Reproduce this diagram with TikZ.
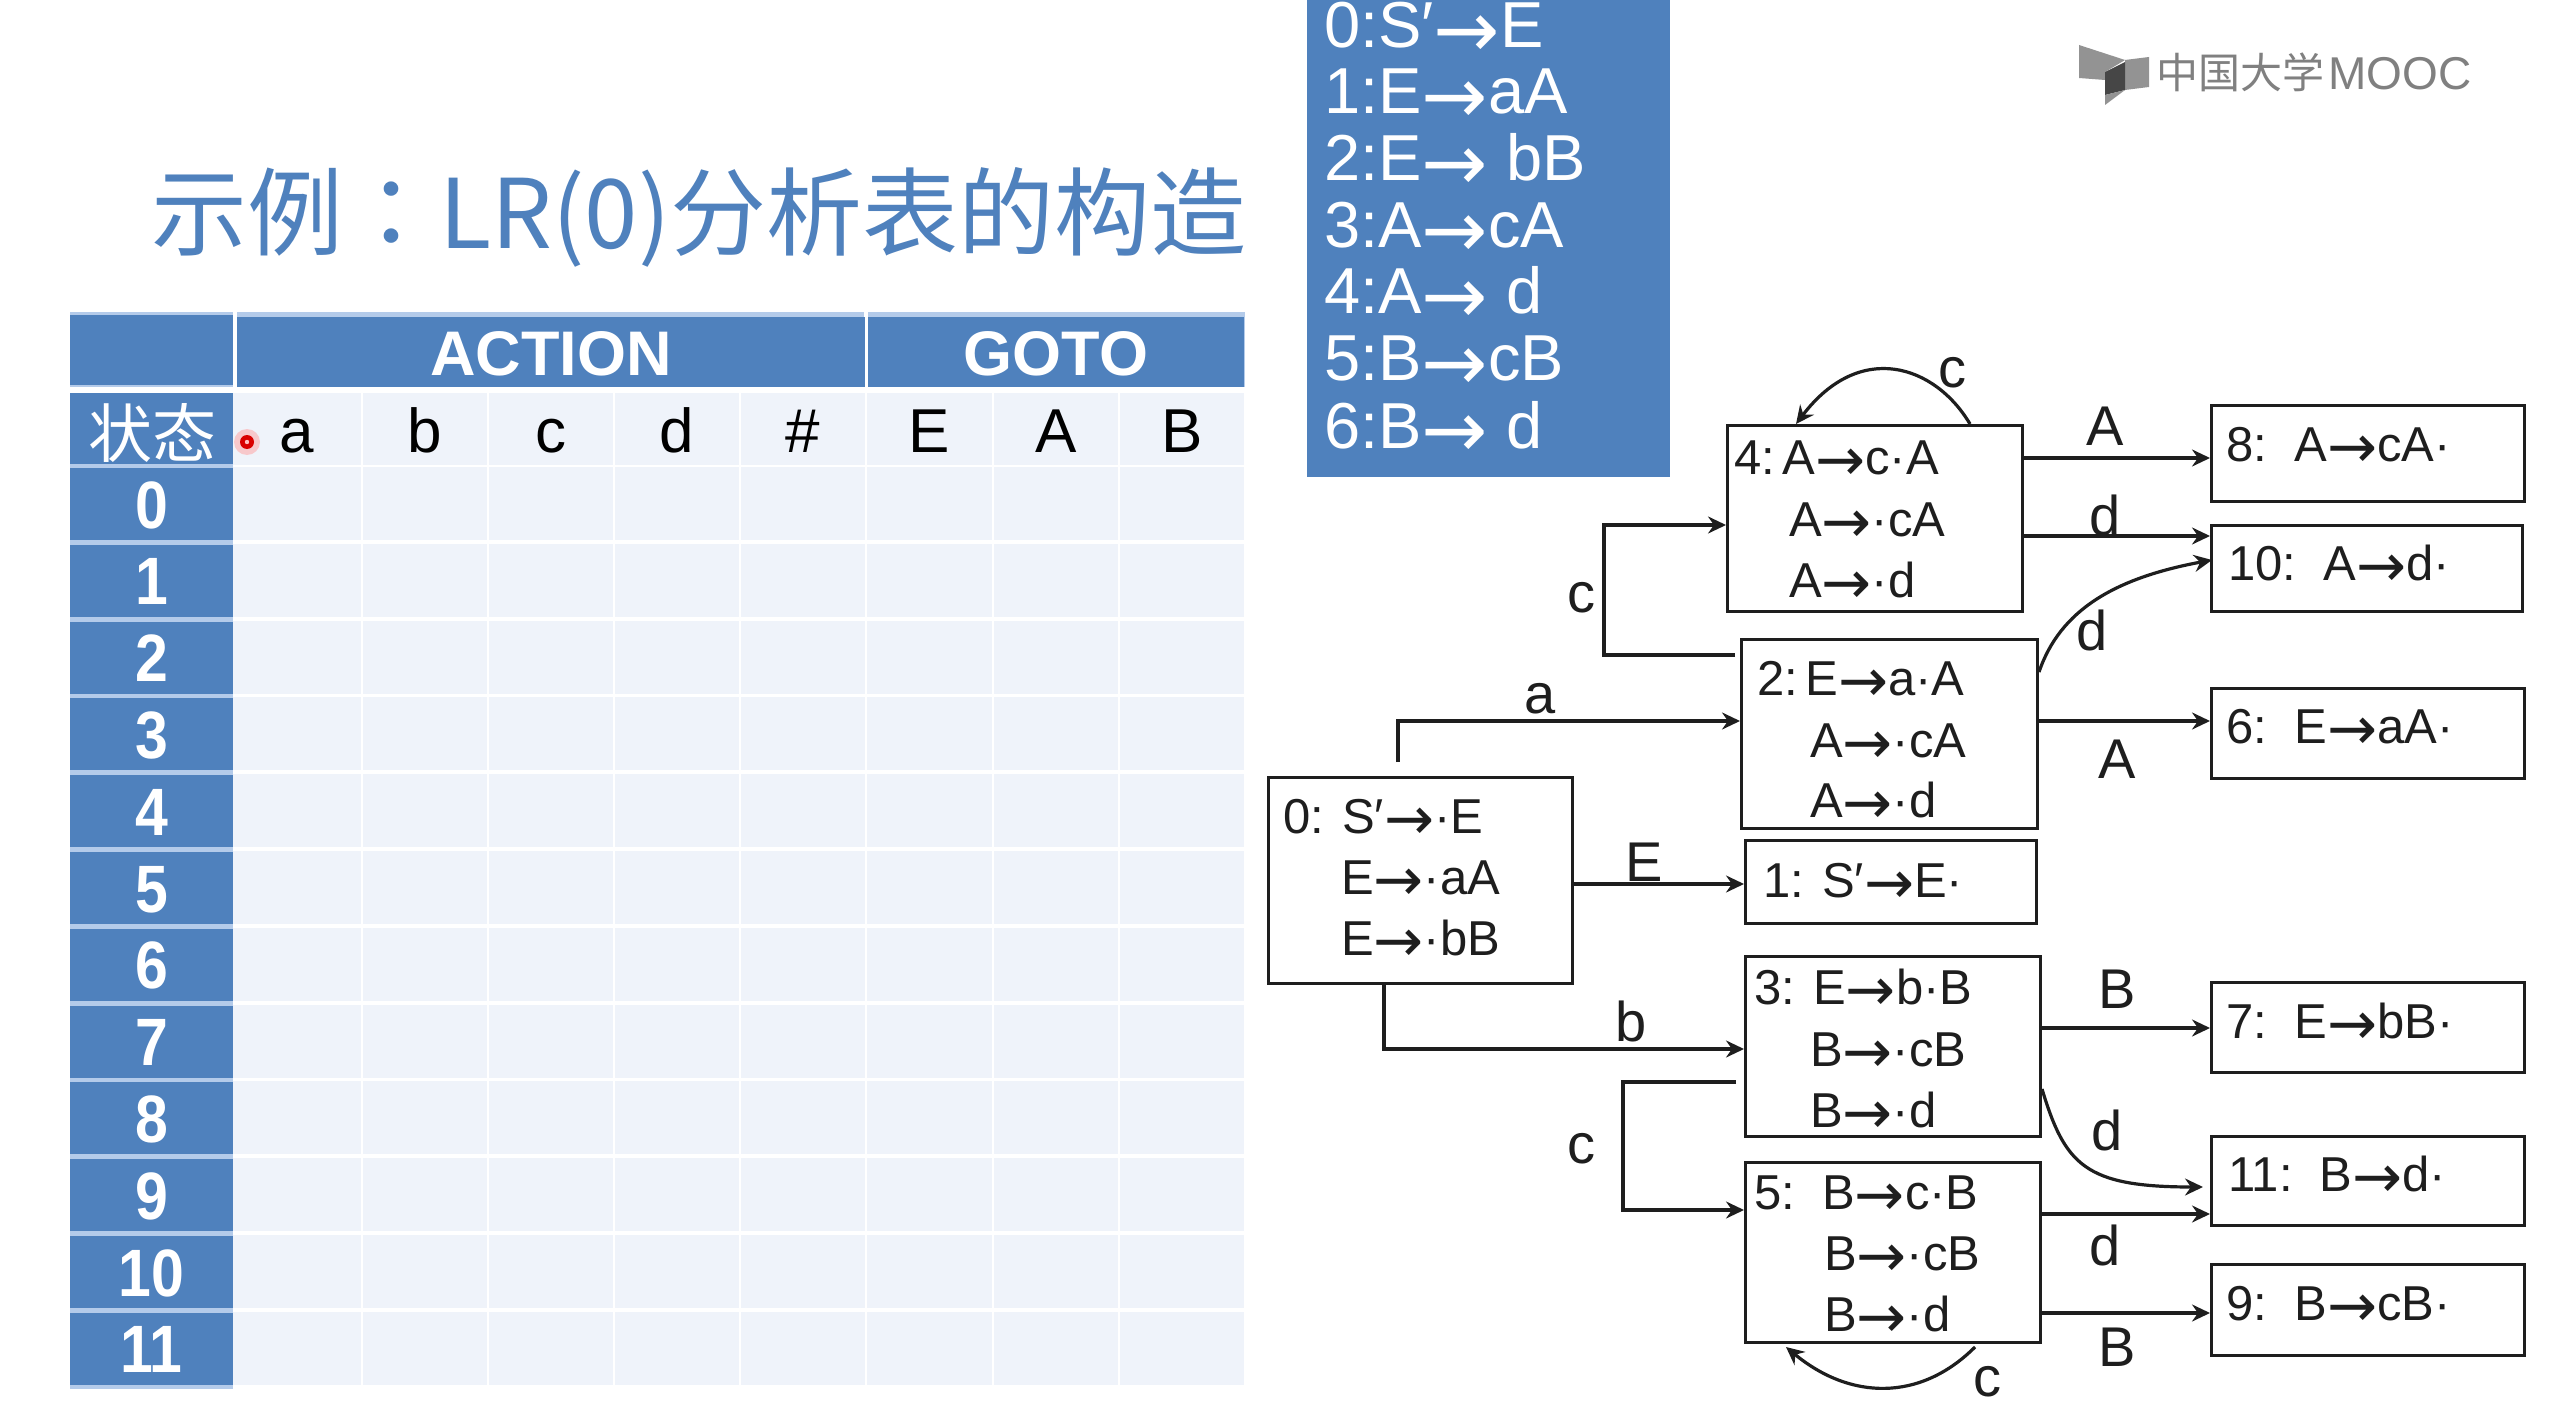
\documentclass[tikz,border=0pt]{standalone}
\usepackage{fontspec}
\usepackage{graphicx}
\usetikzlibrary{arrows.meta}
\setmainfont{Liberation Sans}
\newfontfamily\cjkfont{Noto Sans CJK SC}
\newfontfamily\cjktc{Noto Sans CJK TC}
\newfontfamily\arrowfont[Scale=1.22]{DejaVu Sans}
\newcommand{\fs}[1]{\fontsize{#1}{#1}\selectfont}
\definecolor{hdblue}{HTML}{4F81BD}
\definecolor{sepblue}{HTML}{B4CBEA}
\definecolor{cellbg}{HTML}{EFF3FA}
\definecolor{ink}{HTML}{1E1E1E}
\tikzset{
  x=1pt,y=-1pt,
  hdcell/.style={fill=hdblue,text=white,inner sep=0pt,font=\fs{63}\bfseries,anchor=center},
  rowcell/.style={hdcell,font=\fs{67}\bfseries,text height=48pt,text depth=0pt},
  datacell/.style={fill=cellbg,text=black,inner sep=0pt,font=\fs{62},anchor=center,text height=46pt,text depth=0pt},
  gram/.style={anchor=base west,inner sep=0pt,text=white,font=\fs{65}},
  statebox/.style={draw=ink,line width=3pt,anchor=north west,inner sep=0pt},
  item/.style={anchor=base west,inner sep=0pt,text=ink,font=\fs{49}},
  edgelab/.style={anchor=base,inner sep=0pt,text=ink,font=\fs{56}},
  arr/.style={draw=ink,line width=3.2pt,-{Stealth[length=18pt,width=17pt,inset=6pt]}},
}
\newcommand{\stbox}[5]{\node[statebox,minimum width={(#4-#2)*1pt},minimum height={(#5-#3)*1pt}] (#1) at (#2,#3) {};}
\newcommand{\itm}[4]{\node[item] (#1) at (#2,#3) {#4};}
\newcommand{\elab}[4]{\node[edgelab] (#1) at (#2,#3) {#4};}
\newcommand{\arw}{\raisebox{-.14em}{\arrowfont →}}
\begin{document}
\begin{tikzpicture}
\useasboundingbox[fill=white] (0,0) rectangle (2552,1415);

% title
\node[anchor=base west,inner sep=0pt,text=hdblue,font=\cjkfont\fs{96}] (title) at (151,249) {示例{\cjktc ：}LR(0)分析表的构造};

% logo
\fill[gray!85] (2079,45) -- (2125,60) -- (2105,72) -- (2105,80) -- (2079,78) -- cycle;
\fill[gray!85] (2125,60) -- (2149,57) -- (2149,87) -- (2125,90) -- cycle;
\fill[gray!55!black] (2105,72) -- (2125,62) -- (2125,90) -- (2105,95) -- cycle;
\fill[gray!85] (2105,95) -- (2125,90) -- (2105,105) -- cycle;
\node[anchor=base west,inner sep=0pt,text=gray,font=\cjkfont\fs{42}] (logocn) at (2156,89) {中国大学};
\node[anchor=base west,inner sep=0pt,text=gray,font=\fs{46}] (logoen) at (2328,90) {MOOC};

% table header
\fill[sepblue] (70,312) rectangle (1245,387);
\fill[white] (233,312) rectangle (237,387);
\fill[white] (864,312) rectangle (868,387);
\node[hdcell,minimum width=163pt,minimum height=69pt] (hcorner) at (151.5,350) {};
\node[hdcell,minimum width=628pt,minimum height=69pt,text height=46pt,text depth=0pt] (haction) at (551,352) {ACTION};
\node[hdcell,minimum width=376pt,minimum height=69pt,text height=46pt,text depth=0pt] (hgoto) at (1056,352) {GOTO};

% first column
\fill[sepblue] (70,393) rectangle (233,1389);
\fill[hdblue] (70,393) rectangle (233,464);
\node[inner sep=0pt,text=white,font=\cjkfont\fs{64}] (hstate) at (152,433) {状态};
\foreach \r in {0,...,11}{
  \pgfmathsetmacro{\ry}{504+\r*76.8}
  \node[rowcell,minimum width=163pt,minimum height=72pt] (row\r) at (151.5,\ry) {\scalebox{.88}[1]{\r}};
}
% data cells
\foreach \cc/\xl/\xr/\lab in {1/233/361/a,2/363/487/b,3/489/613/c,4/615/739/d,5/741/865/\#,6/867/992/E,7/994/1118/A,8/1120/1244/B}{
  \pgfmathsetmacro{\xm}{(\xl+\xr)/2}
  \pgfmathsetmacro{\xw}{\xr-\xl}
  \node[datacell,minimum width=\xw pt,minimum height=72pt] (head\cc) at (\xm,429) {\lab};
  \foreach \r in {0,...,11}{
    \pgfmathsetmacro{\ry}{503.4+\r*76.8}
    \node[datacell,minimum width=\xw pt,minimum height=73pt] (cell\cc-\r) at (\xm,\ry) {};
  }
}
% pointer dot
\fill[red!35,opacity=.55] (247,442) circle (13);
\fill[red!85!black] (247,442) circle (7);
\fill[red!25] (247,442) circle (2.2);

% grammar
\fill[hdblue] (1307,0) rectangle (1670,477);
\node[gram] (g0) at (1324,48) {0:S′\arw E};
\node[gram] (g1) at (1324,114) {1:E\arw aA};
\node[gram] (g2) at (1324,181) {2:E\arw\ bB};
\node[gram] (g3) at (1324,248) {3:A\arw cA};
\node[gram] (g4) at (1324,314) {4:A\arw\ d};
\node[gram] (g5) at (1324,381) {5:B\arw cB};
\node[gram] (g6) at (1324,448) {6:B\arw\ d};

% state boxes
\stbox{b0}{1267}{776}{1571}{982}
\stbox{b1}{1744}{839}{2035}{922}
\stbox{b2}{1740}{638}{2036}{827}
\stbox{b3}{1744}{955}{2039}{1135}
\stbox{b4}{1726}{424}{2021}{610}
\stbox{b5}{1744}{1161}{2039}{1341}
\stbox{b6}{2210}{687}{2523}{777}
\stbox{b7}{2210}{981}{2523}{1071}
\stbox{b8}{2210}{404}{2523}{500}
\stbox{b9}{2210}{1263}{2523}{1354}
\stbox{b10}{2210}{524}{2521}{610}
\stbox{b11}{2210}{1135}{2523}{1224}

% state items
\itm{i0a}{1283}{833}{0: S′\arw·E}
\itm{i0b}{1341}{894}{E\arw·aA}
\itm{i0c}{1341}{955}{E\arw·bB}
\itm{i1a}{1763}{897}{1: S′\arw E·}
\itm{i2a}{1757}{695}{2:\hspace{.15em}E\arw a·A}
\itm{i2b}{1810}{757}{A\arw·cA}
\itm{i2c}{1810}{817}{A\arw·d}
\itm{i3a}{1754}{1004}{3: E\arw b·B}
\itm{i3b}{1810}{1066}{B\arw·cB}
\itm{i3c}{1810}{1127}{B\arw·d}
\itm{i4a}{1734}{474}{4:\hspace{.15em}A\arw c·A}
\itm{i4b}{1789}{536}{A\arw·cA}
\itm{i4c}{1789}{597}{A\arw·d}
\itm{i5a}{1754}{1209}{5:\ \ B\arw c·B}
\itm{i5b}{1824}{1270}{B\arw·cB}
\itm{i5c}{1824}{1331}{B\arw·d}
\itm{i6a}{2226}{743}{6:\ \ E\arw aA·}
\itm{i7a}{2226}{1038}{7:\ \ E\arw bB·}
\itm{i8a}{2226}{461}{8:\ \ A\arw cA·}
\itm{i9a}{2226}{1320}{9:\ \ B\arw cB·}
\itm{i10a}{2228}{580}{10:\ \ A\arw d·}
\itm{i11a}{2228}{1191}{11:\ \ B\arw d·}

% connectors
\coordinate (s0a) at (1398,762);
\coordinate (s2c) at (1735,655);
\coordinate (s3c) at (1736,1082);
\coordinate (s4l) at (1970,424);
\coordinate (e4l) at (1796,424);
\coordinate (s5l) at (1975,1347);
\coordinate (e5l) at (1786,1347);
\draw[arr] (s0a) -- (1398,721) -- (b2.west |- 0,721);
\draw[arr] (s2c) -- (1604,655) -- (1604,525) -- (b4.west |- 0,525);
\draw[arr] (b4.east |- 0,458) -- (b8.west |- 0,458);
\draw[arr] (b4.east |- 0,536) -- (b10.west |- 0,536);
\draw[arr] (b2.east |- 0,672) .. controls (2060,610) and (2115,578) .. (2212,560);
\draw[arr] (b2.east |- 0,721) -- (b6.west |- 0,721);
\draw[arr] (b0.east |- 0,884) -- (b1.west |- 0,884);
\draw[arr] (1384,0 |- b0.south) -- (1384,1049) -- (b3.west |- 0,1049);
\draw[arr] (s3c) -- (1623,1082) -- (1623,1210) -- (b5.west |- 0,1210);
\draw[arr] (b3.east |- 0,1028) -- (b7.west |- 0,1028);
\draw[arr] (b3.east |- 0,1089) .. controls (2065,1165) and (2085,1187) .. (2203,1187);
\draw[arr] (b5.east |- 0,1214) -- (b11.west |- 0,1214);
\draw[arr] (b5.east |- 0,1313) -- (b9.west |- 0,1313);
\draw[arr] (s4l) .. controls (1935,365) and (1860,340) .. (e4l);
\draw[arr] (s5l) .. controls (1920,1402) and (1850,1400) .. (e5l);

% connector labels
\elab{l1}{1952}{387}{c}
\elab{l2}{2105}{445}{A}
\elab{l3}{2105}{535}{d}
\elab{l4}{1581}{612}{c}
\elab{l5}{2092}{650}{d}
\elab{l6}{1540}{713}{a}
\elab{l7}{2117}{778}{A}
\elab{l8}{1644}{881}{E}
\elab{l9}{1631}{1041}{b}
\elab{l10}{2117}{1008}{B}
\elab{l11}{2107}{1150}{d}
\elab{l12}{1581}{1163}{c}
\elab{l13}{2105}{1265}{d}
\elab{l14}{2117}{1366}{B}
\elab{l15}{1987}{1396}{c}
\end{tikzpicture}
\end{document}
